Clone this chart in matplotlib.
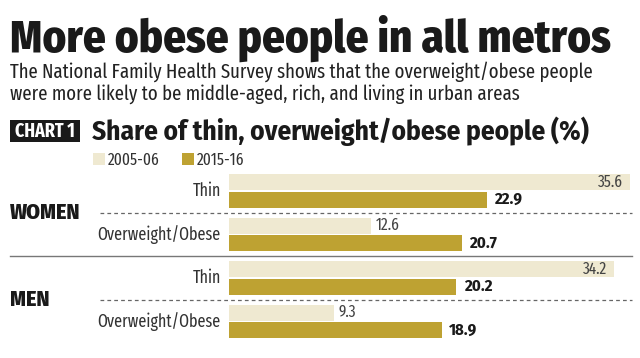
import matplotlib
matplotlib.use("Agg")
import matplotlib.pyplot as plt
from matplotlib import font_manager as fm
import matplotlib.transforms as mtransforms

# ---------------- data ----------------
groups = ["WOMEN", "MEN"]
categories = ["Thin", "Overweight/Obese"]
series_names = ["2005-06", "2015-16"]
values_2005 = [35.6, 12.6, 34.2, 9.3]   # women thin, women ow, men thin, men ow
values_2015 = [22.9, 20.7, 20.2, 18.9]

title = "More obese people in all metros"
subtitle_lines = ["The National Family Health Survey shows that the overweight/obese people",
                  "were more likely to be middle-aged, rich, and living in urban areas"]
chart_tag = "CHART 1"
chart_title = "Share of thin, overweight/obese people (%)"

C_LIGHT = "#efe9d1"
C_GOLD = "#bea232"
C_TEXT = "#1a1a1a"

names = {f.name for f in fm.fontManager.ttflist}


def pick(prefs):
    return next((p for p in prefs if p in names), "DejaVu Sans")


FONT = pick(["Fira Sans Condensed", "Roboto Condensed", "PT Sans Narrow", "Open Sans Condensed",
             "Archivo Narrow", "Liberation Sans Narrow"])
FONT_XC = pick(["Fira Sans Extra Condensed", "Fira Sans Condensed", "Roboto Condensed",
                "PT Sans Narrow", "Liberation Sans Narrow"])

W, H = 640, 358
fig = plt.figure(figsize=(W / 100, H / 100), dpi=100)
fig.patch.set_facecolor("white")


def px(x, y):
    return x / W, 1 - y / H


renderer = fig.canvas.get_renderer()


def fit_text(x, y, s, width, size, family=FONT, **kw):
    t = fig.text(*px(x, y), s, fontsize=size, family=family, **kw)
    bb = t.get_window_extent(renderer=renderer)
    t.set_fontsize(size * width / bb.width)
    return t


def fit_size(s, width, size, family=FONT, **kw):
    t = fit_text(0, 0, s, width, size, family=family, **kw)
    fs = t.get_fontsize()
    t.remove()
    return fs


# headline texts
fit_text(10, 52, title, 601, 34, weight="heavy", va="baseline", color=C_TEXT)
t0 = fit_text(10, 78, subtitle_lines[0], 588, 13, family=FONT_XC, va="baseline", color="#222222")
fig.text(*px(10, 100), subtitle_lines[1], fontsize=t0.get_fontsize(), family=FONT_XC,
         va="baseline", color="#222222")

# chart tag box
fig.patches.append(plt.Rectangle(px(10, 142), 70 / W, 22 / H, transform=fig.transFigure,
                                 facecolor="#1a1a1a", edgecolor="none"))
fit_text(45, 131.5, chart_tag, 60, 12, family=FONT_XC, weight="bold", color="white",
         ha="center", va="center")
fit_text(92, 131, chart_title, 497, 16, weight="bold", va="center", color=C_TEXT)

# axes for bars
ax_left, ax_right = 229, 640
ax_top, ax_bot = 160, 350
g0, step = 191.0, 43.4
ax = fig.add_axes([ax_left / W, 1 - ax_bot / H, (ax_right - ax_left) / W, (ax_bot - ax_top) / H])
ax.set_xlim(0, (ax_right - ax_left) / 11.26)
ax.set_ylim((ax_bot - g0) / step, (ax_top - g0) / step)
ax.axis("off")

ypos = list(range(len(values_2005)))
bh = 16.0 / step
off = 8.7 / step
ax.barh([p - off for p in ypos], values_2005, height=bh, color=C_LIGHT, label=series_names[0])
ax.barh([p + off for p in ypos], values_2015, height=bh, color=C_GOLD, label=series_names[1])

cat_fs = fit_size(categories[1], 123, 12, family=FONT_XC)
val_fs = fit_size("35.6", 25, 12, family=FONT_XC)
bold_fs = fit_size("20.7", 28, 12, weight="bold")

bt = mtransforms.blended_transform_factory(ax.transAxes, ax.transData)
axw = ax_right - ax_left
for i, (v1, v2) in enumerate(zip(values_2005, values_2015)):
    if v1 > 30:
        ax.text(v1 - 0.6, ypos[i] - off, f"{v1}", ha="right", va="center", fontsize=val_fs,
                family=FONT_XC, color="#444444")
    else:
        ax.text(v1 + 0.4, ypos[i] - off, f"{v1}", ha="left", va="center", fontsize=val_fs,
                family=FONT_XC, color="#444444")
    ax.text(v2 + 0.65, ypos[i] + off, f"{v2}", ha="left", va="center", fontsize=bold_fs,
            family=FONT, weight="bold", color=C_TEXT)
    ax.text(-8 / axw, ypos[i], categories[i % 2], transform=bt, ha="right", va="center",
            fontsize=cat_fs, family=FONT_XC, color="#333333")

# separators
for yy in [0.5, 2.5]:
    ax.plot([(100 - ax_left) / axw, (632 - ax_left) / axw], [yy, yy], transform=bt,
            clip_on=False, color="#666666", lw=0.9, ls=(0, (3, 2.5)))
ax.plot([(10 - ax_left) / axw, (632 - ax_left) / axw], [1.5, 1.5], transform=bt,
        clip_on=False, color="#777777", lw=1.0)

# group labels
grp_fs = fit_size(groups[0], 70, 13, weight="heavy")
for gi, g in enumerate(groups):
    yy = [0.5, 2.5][gi]
    ax.text((10 - ax_left) / axw, yy, g, transform=bt, ha="left", va="center",
            fontsize=grp_fs, family=FONT, weight="heavy", color=C_TEXT)

# legend
leg_fs = fit_size(series_names[0], 52, 12, family=FONT_XC)
for sx, name, col in [(93, series_names[0], C_LIGHT), (182, series_names[1], C_GOLD)]:
    fig.patches.append(plt.Rectangle(px(sx, 165), 12 / W, 12 / H, transform=fig.transFigure,
                                     facecolor=col, edgecolor="none"))
    fig.text(*px(sx + 15, 160), name, fontsize=leg_fs, family=FONT_XC, va="center", color="#333333")

fig.savefig("out.png", dpi=100, facecolor="white")
